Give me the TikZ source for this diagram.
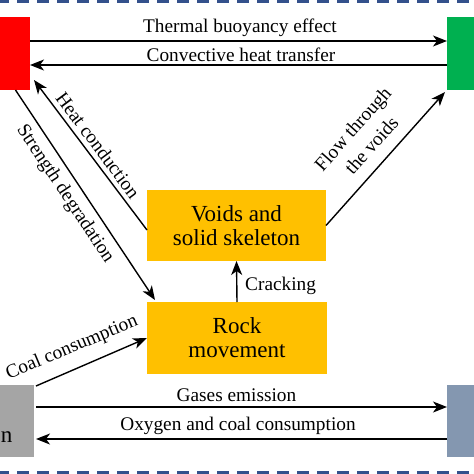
\documentclass[tikz,border=0pt]{standalone}
\usepackage{fontspec}
\setmainfont{Liberation Serif}
\usetikzlibrary{arrows.meta}
\definecolor{boxred}{HTML}{FF0000}
\definecolor{boxgreen}{HTML}{00B050}
\definecolor{boxorange}{HTML}{FFC000}
\definecolor{boxgray}{HTML}{A5A5A5}
\definecolor{boxslate}{HTML}{8497B0}
\definecolor{dashblue}{HTML}{34518C}
\begin{document}
\begin{tikzpicture}[x=1pt,y=-1pt,
  lab/.style={font=\fontsize{19.3}{25}\selectfont, inner sep=0pt},
  boxtext/.style={font=\fontsize{23}{24}\selectfont, align=center},
  blk/.style={inner sep=0pt, outer sep=0pt, anchor=north west},
  arr/.style={line width=1.4pt, -{Stealth[length=14pt,width=11pt,inset=4pt]}},
  dashline/.style={dashblue, line width=3.5pt, dash pattern=on 12pt off 8pt, dash phase=3pt}]
\useasboundingbox (0,0) rectangle (474,474);
% dashed frame lines
\coordinate (tl) at (0,1.5);
\coordinate (tr) at (474,1.5);
\coordinate (bl) at (0,472.3);
\coordinate (br) at (474,472.3);
\draw[dashline] (tl) -- (tr);
\draw[dashline] (bl) -- (br);
% boxes
\node[blk, fill=boxred, minimum width=31pt, minimum height=73pt] (heat) at (-1,17) {};
\node[blk, fill=boxgreen, minimum width=30pt, minimum height=73pt] (green) at (447,17) {};
\node[blk, fill=boxgray, minimum width=39pt, minimum height=72pt] (gray) at (-5,385) {};
\node[blk, fill=boxslate, minimum width=30pt, minimum height=72pt] (slate) at (447,385) {};
\node[font=\fontsize{23}{24}\selectfont, anchor=base east, inner sep=0pt] (ntext) at (12.5,442) {n};
\node[blk, fill=boxorange, minimum width=179pt, minimum height=71pt, boxtext] (voids) at (147,190) {Voids and\\solid skeleton};
\node[blk, fill=boxorange, minimum width=180pt, minimum height=72pt, boxtext] (rock) at (147,302) {Rock\\movement};
% top arrows
\draw[arr] ([yshift=12.5pt]heat.east) -- ([yshift=12.5pt]green.west);
\draw[arr] ([yshift=-11.5pt]green.west) -- ([yshift=-11.5pt]heat.east);
\node[lab, anchor=base] (tbe) at (240,32) {Thermal buoyancy effect};
\node[lab, anchor=base] (cht) at (241,61.5) {Convective heat transfer};
% bottom arrows
\draw[arr] ([xshift=2pt,yshift=14pt]gray.east) -- ([yshift=14pt]slate.west);
\draw[arr] ([yshift=-18pt]slate.west) -- ([xshift=2pt,yshift=-18pt]gray.east);
\node[lab, anchor=base] (ge) at (236.5,401.7) {Gases emission};
\node[lab, anchor=base] (occ) at (238,430.7) {Oxygen and coal consumption};
% diagonal arrows
\draw[arr] ([yshift=-4.5pt]voids.west) -- ([xshift=4pt,yshift=10pt]heat.south east);
\draw[arr] ([xshift=1pt]heat.south) -- ([xshift=8pt,yshift=2pt]rock.north west);
\draw[arr] (voids.east) -- ([xshift=-2pt,yshift=-2pt]green.south west);
\draw[arr] ([xshift=2pt,yshift=-1pt]gray.north east) -- (rock.west);
\draw[arr] (rock.north) -- (voids.south);
% labels
\node[lab, rotate=-53.3] (hc) at (98,145) {Heat conduction};
\node[lab, rotate=-56.4] (sd) at (65,194) {Strength degradation};
\node[lab, rotate=48.4, align=center] (ftv) at (362,137) {Flow through\\the voids};
\node[lab, rotate=22.9] (cc) at (72,348) {Coal consumption};
\node[lab, anchor=base west] (crk) at (245,290) {Cracking};
\end{tikzpicture}
\end{document}
